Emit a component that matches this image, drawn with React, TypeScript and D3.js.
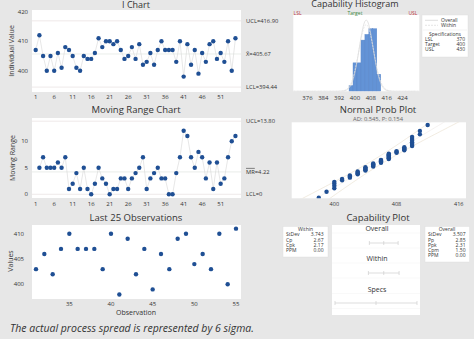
import React from 'react';
import * as d3 from 'd3';

const W = 474, H = 339;
const FONT = "'Segoe UI', 'Open Sans', sans-serif";

// ---------- data ----------
const observations = [407, 412, 405, 400, 405, 400, 406, 401, 408, 407, 405, 401, 400, 405, 404, 404, 406, 411, 408, 410,
  410, 409, 410, 407, 404, 405, 408, 404, 409, 402, 403, 406, 402, 407, 410, 407, 407, 407, 403, 410,
  398, 409, 402, 407, 399, 406, 403, 409, 410, 404, 406, 403, 410, 400, 411];
const movingRanges = [5, 7, 5, 5, 5, 6, 5, 7, 1, 2, 4, 1, 5, 1, 0, 2, 5, 3, 2, 0, 1, 1, 3, 3, 1, 3, 4, 5, 7,
  1, 3, 4, 5, 3, 3, 0, 0, 4, 7, 12, 11, 7, 5, 8, 7, 3, 6, 1, 6, 2, 3, 7, 10, 11];

const iLimitNames = ['UCL=416.90', 'X\u0304=405.67', 'LCL=394.44'];
const iLimitValues = [416.9, 405.67, 394.44];
const mrLimitValues = [13.8, 4.22, 0];

const iXTicks = [1, 6, 11, 16, 21, 26, 31, 36, 41, 46, 51];
const iYTicks = [400, 410, 420];
const mrYTicks = [0, 5, 10];
const lastXTicks = [35, 40, 45, 50, 55];
const lastYTicks = [400, 405, 410];
const histXTicks = [376, 384, 392, 400, 408, 416, 424];
const histThresholds = [397, 399, 401, 403, 405, 407, 409, 411, 413];
const npXTicks = [400, 408, 416];

const specNames = ['LSL', 'Target', 'USL'];
const specValues = [370, 400, 430];
const processMean = 405.67;
const sdWithin = 3.743;
const sdOverall = 3.507;

const withinNames = ['StDev', 'Cp', 'Cpk', 'PPM'];
const withinValues = ['3.743', '2.67', '2.17', '0.00'];
const overallNames = ['StDev', 'Pp', 'Ppk', 'Cpm', 'PPM'];
const overallValues = ['3.507', '2.85', '2.31', '1.50', '0.00'];

// ---------- helpers ----------
function probit(p: number): number {
  const a = [-3.969683028665376e+01, 2.209460984245205e+02, -2.759285104469687e+02, 1.383577518672690e+02, -3.066479806614716e+01, 2.506628277459239e+00];
  const b = [-5.447609879822406e+01, 1.615858368580409e+02, -1.556989798598866e+02, 6.680131188771972e+01, -1.328068155288572e+01];
  const c = [-7.784894002430293e-03, -3.223964580411365e-01, -2.400758277161838e+00, -2.549732539343734e+00, 4.374664141464968e+00, 2.938163982698783e+00];
  const d = [7.784695709041462e-03, 3.224671290700398e-01, 2.445134137142996e+00, 3.754408661907416e+00];
  const pl = 0.02425, ph = 1 - pl;
  if (p < pl) {
    const q = Math.sqrt(-2 * Math.log(p));
    return (((((c[0] * q + c[1]) * q + c[2]) * q + c[3]) * q + c[4]) * q + c[5]) / ((((d[0] * q + d[1]) * q + d[2]) * q + d[3]) * q + 1);
  }
  if (p > ph) {
    const q = Math.sqrt(-2 * Math.log(1 - p));
    return -(((((c[0] * q + c[1]) * q + c[2]) * q + c[3]) * q + c[4]) * q + c[5]) / ((((d[0] * q + d[1]) * q + d[2]) * q + d[3]) * q + 1);
  }
  const q = p - 0.5, r = q * q;
  return (((((a[0] * r + a[1]) * r + a[2]) * r + a[3]) * r + a[4]) * r + a[5]) * q / (((((b[0] * r + b[1]) * r + b[2]) * r + b[3]) * r + b[4]) * r + 1);
}
const pdf = (x: number, m: number, s: number) => Math.exp(-0.5 * ((x - m) / s) ** 2) / (s * Math.sqrt(2 * Math.PI));

const DOT = '#1f4f94';
const TXT = '#333';
const FAINT = '#d6d6d6';

export default function App() {
  const n = observations.length;

  // I chart
  const iX = d3.scaleLinear().domain([0, 56.5]).range([32, 241]);
  const iY = d3.scaleLinear().domain([392.78, 420.58]).range([92, 10]);
  const iLine = d3.line<number>().x((_, i) => iX(i + 1)).y(v => iY(v));

  // MR chart
  const mrX = iX;
  const mrY = d3.scaleLinear().domain([-0.7, 14.4]).range([198, 118]);
  const mrLine = d3.line<number>().x((_, i) => mrX(i + 2)).y(v => mrY(v));

  // Last 25
  const last = observations.slice(n - 25);
  const lX = d3.scaleLinear().domain([30.52, 55.6]).range([32, 241]);
  const lY = d3.scaleLinear().domain([397.1, 411.72]).range([299, 225]);

  // Histogram
  const hX = d3.scaleLinear().domain([368.84, 432.47]).range([293.3, 419.3]);
  const hY = d3.scaleLinear().domain([0, 0.1224]).range([91.3, 14.7]);
  const bins = d3.bin().domain([histThresholds[0], histThresholds[histThresholds.length - 1]])
    .thresholds(histThresholds.slice(1, -1))(observations);
  const curvePts = d3.range(368.9, 432.4, 0.25);
  const curveOverall = d3.line<number>().x(v => hX(v)).y(v => hY(pdf(v, processMean, sdOverall)))(curvePts);
  const curveWithin = d3.line<number>().x(v => hX(v)).y(v => hY(pdf(v, processMean, sdWithin)))(curvePts);

  // Normal probability plot
  const npX = d3.scaleLinear().domain([394.52, 416.93]).range([291.7, 466]);
  const npY = d3.scaleLinear().domain([-2.277, 2.4]).range([198.3, 122.3]);
  const sorted = [...observations].sort((a, b) => a - b);
  const npPts = sorted.map((v, i) => ({ v, z: probit((i + 1 - 0.3) / (n + 0.4)) }));
  const zs = d3.range(-2.6, 2.7, 0.05);
  const fitLine = d3.line<number>().x(z => npX(processMean + sdOverall * z)).y(z => npY(z))(zs);
  const ciLo = d3.line<number>().x(z => npX(processMean + sdOverall * z - 1.96 * sdOverall * Math.sqrt((1 + z * z / 2) / n))).y(z => npY(z))(zs);
  const ciHi = d3.line<number>().x(z => npX(processMean + sdOverall * z + 1.96 * sdOverall * Math.sqrt((1 + z * z / 2) / n))).y(z => npY(z))(zs);

  // Capability plot
  const cX = d3.scaleLinear().domain([367.8, 432.2]).range([332, 420]);
  const intervals = [
    { label: 'Overall', ly: 231, y: 243, lo: processMean - 3 * sdOverall, c: processMean, hi: processMean + 3 * sdOverall },
    { label: 'Within', ly: 261, y: 273, lo: processMean - 3 * sdWithin, c: processMean, hi: processMean + 3 * sdWithin },
    { label: 'Specs', ly: 291.5, y: 303, lo: specValues[0], c: specValues[1], hi: specValues[2] },
  ];

  const tickFs = 6;
  const tblFs = 5;
  const rowH = 5.2;

  return (
    <svg width={W} height={H} style={{ position: 'absolute', left: 0, top: 0, display: 'block' }} fontFamily={FONT}>
      <rect width={W} height={H} fill="#e7e7e7" />
      <defs>
        <clipPath id="npclip"><rect x={291.7} y={122.3} width={466 - 291.7} height={76} /></clipPath>
        <clipPath id="hclip"><rect x={293.3} y={14.7} width={126} height={76.6} /></clipPath>
      </defs>

      {/* ================= I Chart ================= */}
      <text x={136} y={7.5} fontSize={9} fill={TXT} textAnchor="middle">I Chart</text>
      <rect x={32} y={10} width={209} height={82} fill="#fff" />
      {iLimitValues.map((v, i) => (
        <line key={i} x1={32} x2={241} y1={iY(v)} y2={iY(v)} stroke={i === 1 ? '#e3e9e3' : '#ebe3e3'} strokeWidth={0.8} />
      ))}
      <path d={iLine(observations) || ''} fill="none" stroke={FAINT} strokeWidth={0.6} />
      {observations.map((v, i) => <circle key={i} cx={iX(i + 1)} cy={iY(v)} r={2.2} fill={DOT} />)}
      {iYTicks.map(t => <text key={t} x={28} y={iY(t) + 2} fontSize={tickFs} fill={TXT} textAnchor="end">{t}</text>)}
      {iXTicks.map(t => <text key={t} x={iX(t)} y={99} fontSize={tickFs} fill={TXT} textAnchor="middle">{t}</text>)}
      {iLimitNames.map((s, i) => <text key={s} x={246} y={iY(iLimitValues[i]) + 2} fontSize={5.8} fill={TXT}>{s}</text>)}
      <text transform="translate(13.5,51) rotate(-90)" fontSize={7} fill={TXT} textAnchor="middle">Individual Value</text>

      {/* ================= Moving Range ================= */}
      <text x={136} y={113} fontSize={9.5} fill={TXT} textAnchor="middle">Moving Range Chart</text>
      <rect x={32} y={118} width={209} height={80} fill="#fff" />
      {mrLimitValues.map((v, i) => (
        <line key={i} x1={32} x2={241} y1={mrY(v)} y2={mrY(v)} stroke={i === 1 ? '#e3e9e3' : '#ebe3e3'} strokeWidth={0.8} />
      ))}
      <path d={mrLine(movingRanges) || ''} fill="none" stroke={FAINT} strokeWidth={0.6} />
      {movingRanges.map((v, i) => <circle key={i} cx={mrX(i + 2)} cy={mrY(v)} r={2.2} fill={DOT} />)}
      {mrYTicks.map(t => <text key={t} x={28} y={mrY(t) + 2} fontSize={tickFs} fill={TXT} textAnchor="end">{t}</text>)}
      {iXTicks.map(t => <text key={t} x={mrX(t)} y={205.5} fontSize={tickFs} fill={TXT} textAnchor="middle">{t}</text>)}
      <text x={246} y={mrY(mrLimitValues[0]) + 2} fontSize={5.8} fill={TXT}>UCL=13.80</text>
      <text x={246} y={mrY(mrLimitValues[1]) + 2} fontSize={5.8} fill={TXT}><tspan style={{ textDecoration: 'overline' }}>MR</tspan>=4.22</text>
      <text x={246} y={mrY(mrLimitValues[2]) + 2} fontSize={5.8} fill={TXT}>LCL=0</text>
      <text transform="translate(15,158) rotate(-90)" fontSize={7} fill={TXT} textAnchor="middle">Moving Range</text>

      {/* ================= Last 25 ================= */}
      <text x={136} y={221} fontSize={9.5} fill={TXT} textAnchor="middle">Last 25 Observations</text>
      <rect x={32} y={225} width={209} height={74} fill="#fff" />
      {last.map((v, i) => <circle key={i} cx={lX(n - 25 + i + 1)} cy={lY(v)} r={2.2} fill={DOT} />)}
      {lastYTicks.map(t => <text key={t} x={24} y={lY(t) + 2} fontSize={tickFs} fill={TXT} textAnchor="end">{t}</text>)}
      {lastXTicks.map(t => <text key={t} x={lX(t)} y={306} fontSize={tickFs} fill={TXT} textAnchor="middle">{t}</text>)}
      <text x={136} y={314.5} fontSize={7} fill={TXT} textAnchor="middle">Observation</text>
      <text transform="translate(13,261) rotate(-90)" fontSize={7} fill={TXT} textAnchor="middle">Values</text>

      <text x={10} y={332} fontSize={10.5} fontStyle="italic" fill="#333">The actual process spread is represented by 6 sigma.</text>

      {/* ================= Capability Histogram ================= */}
      <text x={355} y={7} fontSize={9} fill={TXT} textAnchor="middle">Capability Histogram</text>
      <rect x={293.3} y={14.7} width={126} height={76.6} fill="#fff" />
      <g clipPath="url(#hclip)">
        {bins.map((b, i) => (
          <rect key={i} x={hX(b.x0 as number)} width={hX(b.x1 as number) - hX(b.x0 as number)}
            y={hY(b.length / (n * 2))} height={hY(0) - hY(b.length / (n * 2))}
            fill="#6393d6" stroke="#5684c8" strokeWidth={0.4} />
        ))}
        <path d={curveWithin || ''} fill="none" stroke="#e2e2e2" strokeWidth={0.7} strokeDasharray="2,1" />
        <path d={curveOverall || ''} fill="none" stroke="#d8d8d8" strokeWidth={0.7} />
      </g>
      {specValues.map((v, i) => (
        <text key={i} x={hX(v)} y={14.8} fontSize={5} textAnchor={i === 0 ? 'start' : i === 2 ? 'end' : 'middle'}
          fill={i === 1 ? '#3c8a44' : '#b8323a'}
          dx={i === 0 ? -2 : i === 2 ? 3 : 0}>{specNames[i]}</text>
      ))}
      {histXTicks.map(t => <text key={t} x={hX(t)} y={99.5} fontSize={tickFs} fill={TXT} textAnchor="middle">{t}</text>)}
      {/* legend */}
      <rect x={422} y={15} width={46} height={42} fill="#fff" stroke="#ddd" strokeWidth={0.4} />
      <line x1={425} x2={438} y1={20.3} y2={20.3} stroke="#d0d0d0" strokeWidth={0.7} />
      <line x1={425} x2={438} y1={25.3} y2={25.3} stroke="#dadada" strokeWidth={0.7} strokeDasharray="2,1" />
      <text x={441} y={22} fontSize={tblFs} fill={TXT}>Overall</text>
      <text x={441} y={27} fontSize={tblFs} fill={TXT}>Within</text>
      <line x1={423} x2={467} y1={30} y2={30} stroke="#ddd" strokeWidth={0.4} />
      <text x={445} y={36} fontSize={tblFs} fill={TXT} textAnchor="middle">Specifications</text>
      {specNames.map((s, i) => (
        <g key={s}>
          <text x={425} y={41.2 + i * 5} fontSize={tblFs} fill={TXT}>{s}</text>
          <text x={465} y={41.2 + i * 5} fontSize={tblFs} fill={TXT} textAnchor="end">{specValues[i]}</text>
        </g>
      ))}

      {/* ================= Normal Prob Plot ================= */}
      <text x={378} y={112.8} fontSize={9.5} fill={TXT} textAnchor="middle">Normal Prob Plot</text>
      <text x={378} y={120.8} fontSize={5.8} fill="#666" textAnchor="middle">AD: 0.545, P: 0.154</text>
      <rect x={291.7} y={122.3} width={466 - 291.7} height={76} fill="#fff" />
      <g clipPath="url(#npclip)">
        <path d={ciLo || ''} fill="none" stroke="#ebe3d3" strokeWidth={0.7} />
        <path d={ciHi || ''} fill="none" stroke="#ebe3d3" strokeWidth={0.7} />
        <path d={fitLine || ''} fill="none" stroke="#f1ecea" strokeWidth={0.7} />
        {npPts.map((p, i) => <circle key={i} cx={npX(p.v)} cy={npY(p.z)} r={2.2} fill={DOT} />)}
      </g>
      {npXTicks.map(t => <text key={t} x={npX(t)} y={205.5} fontSize={5.5} fill={TXT} textAnchor="middle">{t}</text>)}

      {/* ================= Capability Plot ================= */}
      <text x={378} y={221} fontSize={9.5} fill={TXT} textAnchor="middle">Capability Plot</text>
      <rect x={332} y={225} width={88} height={90} fill="#fff" />
      {[233, 248, 263, 278, 293.5, 308.5].map(y => (
        <line key={y} x1={332} x2={420} y1={y} y2={y} stroke="#f2f2f2" strokeWidth={0.5} />
      ))}
      {intervals.map(it => (
        <g key={it.label}>
          <text x={377} y={it.ly} fontSize={7} fill={TXT} textAnchor="middle">{it.label}</text>
          <line x1={cX(it.lo)} x2={cX(it.hi)} y1={it.y} y2={it.y} stroke="#cfcfcf" strokeWidth={0.7} />
          {[it.lo, it.c, it.hi].map((v, k) => (
            <line key={k} x1={cX(v)} x2={cX(v)} y1={it.y - 2} y2={it.y + 2} stroke="#cfcfcf" strokeWidth={0.7} />
          ))}
        </g>
      ))}
      {/* Within table */}
      <rect x={283} y={226.5} width={45} height={30.5} fill="#fff" stroke="#ddd" strokeWidth={0.4} />
      <text x={305.5} y={231.3} fontSize={tblFs} fill={TXT} textAnchor="middle">Within</text>
      {withinNames.map((s, i) => (
        <g key={s}>
          <text x={286} y={236.3 + i * rowH} fontSize={tblFs} fill={TXT}>{s}</text>
          <text x={323.5} y={236.3 + i * rowH} fontSize={tblFs} fill={TXT} textAnchor="end">{withinValues[i]}</text>
        </g>
      ))}
      {/* Overall table */}
      <rect x={425} y={226.5} width={44.5} height={35.5} fill="#fff" stroke="#ddd" strokeWidth={0.4} />
      <text x={447} y={231.3} fontSize={tblFs} fill={TXT} textAnchor="middle">Overall</text>
      {overallNames.map((s, i) => (
        <g key={s}>
          <text x={428} y={236.3 + i * rowH} fontSize={tblFs} fill={TXT}>{s}</text>
          <text x={465.5} y={236.3 + i * rowH} fontSize={tblFs} fill={TXT} textAnchor="end">{overallValues[i]}</text>
        </g>
      ))}
    </svg>
  );
}
